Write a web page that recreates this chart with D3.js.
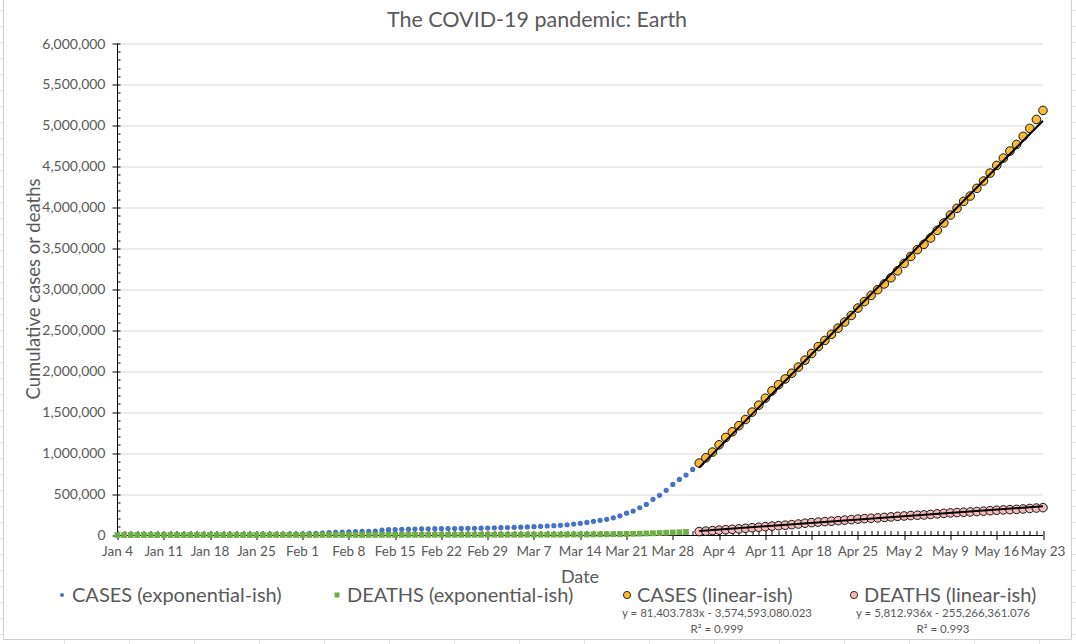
<!DOCTYPE html>
<html>
<head>
<meta charset="utf-8">
<script src="https://cdn.jsdelivr.net/npm/d3@7"></script>
<style>
  body { margin: 0; background: #fff; }
  svg { display: block; font-family: Lato, "Open Sans", sans-serif; }
</style>
</head>
<body>
<div id="chart"></div>
<script>
// first day of the exponential part, first day of the linear part
const expStart = "2020-01-04";
const linStart = "2020-04-01";

// Jan 4 .. Mar 31
const expCases = [
  44, 44, 59, 59, 59, 59, 59, 59, 59, 59, 41, 41, 41, 41, 41, 45, 62, 201,
  580, 845, 1320, 2015, 2800, 4585, 6065, 7820, 9830, 11950,
  14560, 17390, 20630, 24550, 28280, 31480, 34890, 37560, 40550, 43100,
  45170, 46550, 60330, 64440, 67100, 69200, 71330, 73330, 75200, 75750,
  76770, 77790, 78810, 79330, 80240, 81110, 82290, 83650, 85400,
  87140, 88950, 90870, 93090, 95330, 98190, 102000, 106000, 109580, 113700,
  118320, 125260, 132760, 142540, 153520, 167510, 179110, 191130, 209840, 234070,
  266070, 292140, 332930, 372760, 435000, 484000, 545000, 618000, 679000, 732000, 801000
];
const expDeaths = [
  0, 0, 0, 0, 0, 0, 0, 1, 1, 1, 1, 1, 1, 1, 2, 3, 4, 6,
  17, 25, 41, 56, 80, 106, 132, 170, 213, 259,
  304, 362, 426, 492, 565, 638, 724, 813, 910, 1018,
  1115, 1261, 1383, 1526, 1669, 1775, 1873, 2009, 2126, 2247,
  2360, 2460, 2618, 2699, 2763, 2800, 2858, 2924, 2977,
  3050, 3117, 3202, 3285, 3387, 3494, 3600, 3800, 3988, 4262,
  4616, 4720, 5410, 5819, 6440, 7126, 7905, 8778, 9840, 11184,
  12944, 14510, 16497, 18915, 21297, 24073, 27324, 30873, 33981, 37272
];

// Apr 1 .. May 23
const linCases = [
  878000, 943000, 1012000, 1101000, 1191000, 1260000, 1335000, 1410000, 1500000, 1585000,
  1670000, 1760000, 1835000, 1905000, 1975000, 2050000, 2135000, 2215000, 2300000, 2375000,
  2450000, 2525000, 2600000, 2680000, 2770000, 2850000, 2925000, 2995000, 3065000, 3140000,
  3225000, 3315000, 3400000, 3484000, 3549000, 3626000, 3719000, 3809000, 3906000, 3988000,
  4073000, 4138000, 4232000, 4321000, 4418000, 4512000, 4601000, 4687000, 4768000, 4866000,
  4963000, 5073000, 5183000
];
const linDeaths = [
  42000, 47000, 53000, 59000, 64500, 69500, 74700, 82000, 88500, 95000,
  102000, 108500, 114000, 119500, 126500, 134000, 144000, 151000, 157500, 163000,
  168000, 175000, 182000, 188000, 194000, 199500, 204000, 208500, 215000, 221000,
  227500, 232500, 237500, 241500, 245000, 251500, 258000, 264000, 269500, 274000,
  277500, 281000, 286000, 291500, 297000, 302000, 306500, 309500, 313000, 318000,
  323500, 329000, 334000
];

// Excel linear trendlines (x = Excel date serial)
const casesTrend = { slope: 81403.783, intercept: -3574593080.023, r2: "0.999",
  label: "y = 81,403.783x - 3,574,593,080.023" };
const deathsTrend = { slope: 5812.936, intercept: -255266361.076, r2: "0.993",
  label: "y = 5,812.936x - 255,266,361.076" };

const xTickLabels = ["Jan 4", "Jan 11", "Jan 18", "Jan 25", "Feb 1", "Feb 8", "Feb 15",
  "Feb 22", "Feb 29", "Mar 7", "Mar 14", "Mar 21", "Mar 28", "Apr 4", "Apr 11",
  "Apr 18", "Apr 25", "May 2", "May 9", "May 16", "May 23"];
const yTicks = d3.range(0, 6000001, 500000);

const seriesNames = ["CASES (exponential-ish)", "DEATHS (exponential-ish)",
  "CASES (linear-ish)", "DEATHS (linear-ish)"];
const colors = { blue: "#4472C4", green: "#70AD47", orange: "#FBB935", pink: "#F6BABA" };

const W = 1076, H = 644;
const margin = { top: 43.5, right: 33, bottom: 109, left: 117.5 };
const plotW = W - margin.left - margin.right;
const plotH = H - margin.top - margin.bottom;

const parse = d3.utcParse("%Y-%m-%d");
const day = 864e5;
const toSeries = (start, vals) => vals.map((v, i) => ({ date: new Date(parse(start).getTime() + i * day), v }));
const blue = toSeries(expStart, expCases);
const green = toSeries(expStart, expDeaths);
const orange = toSeries(linStart, linCases);
const pink = toSeries(linStart, linDeaths);

const tickDates = xTickLabels.map(s => d3.utcParse("%b %d %Y")(s + " 2020"));
const excelEpoch = Date.UTC(1899, 11, 30);
const serial = d => (d.getTime() - excelEpoch) / day;

const x = d3.scaleUtc()
  .domain([tickDates[0], tickDates[tickDates.length - 1]])
  .range([0, plotW]);
const y = d3.scaleLinear().domain([0, 6000000]).range([plotH, 0]);

const svg = d3.select("#chart").append("svg")
  .attr("width", W).attr("height", H);

svg.append("rect").attr("width", W).attr("height", H).attr("fill", "#fff");

// spreadsheet cells around the chart object
const cellColor = "#E3E3E3";
const rows = d3.range(10, H, 16);
svg.append("g").selectAll("line").data(rows).enter().append("line")
  .attr("x1", 0).attr("x2", 3).attr("y1", d => d + 0.5).attr("y2", d => d + 0.5)
  .attr("stroke", cellColor);
svg.append("g").selectAll("line").data(rows).enter().append("line")
  .attr("x1", 1072).attr("x2", W).attr("y1", d => d + 0.5).attr("y2", d => d + 0.5)
  .attr("stroke", cellColor);
svg.append("g").selectAll("line").data(d3.range(64, W, 65)).enter().append("line")
  .attr("x1", d => d + 0.5).attr("x2", d => d + 0.5).attr("y1", 640).attr("y2", H)
  .attr("stroke", cellColor);
// chart area border
svg.append("path")
  .attr("d", "M3.5,0V639.5H1071.5V0")
  .attr("fill", "none").attr("stroke", "#D0D0D0");

const g = svg.append("g").attr("transform", `translate(${margin.left},${margin.top})`);

// gridlines
g.append("g").selectAll("line").data(yTicks.slice(1)).enter().append("line")
  .attr("x1", 0).attr("x2", plotW)
  .attr("y1", d => Math.round(y(d)) + 0.5).attr("y2", d => Math.round(y(d)) + 0.5)
  .attr("stroke", "#D9D9D9");

// y axis: major ticks outside, minor ticks inside
const yAxis = g.append("g");
yAxis.append("line").attr("x1", 0).attr("x2", 0).attr("y1", 0).attr("y2", plotH)
  .attr("stroke", "#000");
yAxis.selectAll(".minor").data(d3.range(0, 6000001, 100000)).enter().append("line")
  .attr("x1", 0).attr("x2", 3)
  .attr("y1", d => Math.round(y(d)) + 0.5).attr("y2", d => Math.round(y(d)) + 0.5)
  .attr("stroke", "#000");
yAxis.selectAll(".major").data(yTicks).enter().append("line")
  .attr("x1", -5).attr("x2", 0)
  .attr("y1", d => Math.round(y(d)) + 0.5).attr("y2", d => Math.round(y(d)) + 0.5)
  .attr("stroke", "#000");
yAxis.selectAll("text").data(yTicks).enter().append("text")
  .attr("x", -12).attr("y", d => y(d)).attr("dy", "0.36em")
  .attr("text-anchor", "end").attr("fill", "#595959").style("font-size", "14px")
  .text(d3.format(","));

// x axis: major ticks outside (weekly), minor inside (daily)
const xAxis = g.append("g").attr("transform", `translate(0,${plotH})`);
xAxis.selectAll(".minor").data(d3.utcDay.range(tickDates[0], d3.utcDay.offset(tickDates[tickDates.length - 1], 1)))
  .enter().append("line")
  .attr("x1", d => Math.round(x(d)) + 0.5).attr("x2", d => Math.round(x(d)) + 0.5)
  .attr("y1", -4).attr("y2", 0).attr("stroke", "#000");
xAxis.selectAll(".major").data(tickDates).enter().append("line")
  .attr("x1", d => Math.round(x(d)) + 0.5).attr("x2", d => Math.round(x(d)) + 0.5)
  .attr("y1", 0).attr("y2", 5).attr("stroke", "#000");
xAxis.append("line").attr("x1", 0).attr("x2", plotW).attr("y1", 0.5).attr("y2", 0.5)
  .attr("stroke", "#000");
xAxis.selectAll("text").data(tickDates).enter().append("text")
  .attr("x", d => x(d)).attr("y", 21)
  .attr("text-anchor", "middle").attr("fill", "#595959").style("font-size", "13.5px")
  .text((d, i) => xTickLabels[i]);

// markers
g.append("g").selectAll("circle").data(blue).enter().append("circle")
  .attr("cx", d => x(d.date)).attr("cy", d => y(d.v)).attr("r", 2.6)
  .attr("fill", colors.blue);
g.append("g").selectAll("rect").data(green).enter().append("rect")
  .attr("x", d => x(d.date) - 2.9).attr("y", d => y(d.v) - 2.9)
  .attr("width", 5.8).attr("height", 5.8).attr("fill", colors.green);
g.append("g").selectAll("circle").data(orange).enter().append("circle")
  .attr("cx", d => x(d.date)).attr("cy", d => y(d.v)).attr("r", 4.3)
  .attr("fill", colors.orange).attr("stroke", "#000").attr("stroke-width", 0.9);
g.append("g").selectAll("circle").data(pink).enter().append("circle")
  .attr("cx", d => x(d.date)).attr("cy", d => y(d.v)).attr("r", 4.3)
  .attr("fill", colors.pink).attr("stroke", "#000").attr("stroke-width", 0.9);

// trendlines, drawn over the markers like Excel does
[[casesTrend, orange], [deathsTrend, pink]].forEach(([t, s]) => {
  const ends = [s[0].date, s[s.length - 1].date];
  g.append("path")
    .attr("d", d3.line().x(d => x(d)).y(d => y(t.slope * serial(d) + t.intercept))(ends))
    .attr("stroke", "#000").attr("stroke-width", 2).attr("fill", "none");
});

// titles
svg.append("text").attr("x", 537).attr("y", 27).attr("text-anchor", "middle")
  .attr("fill", "#595959").style("font-size", "21.5px")
  .text("The COVID-19 pandemic: Earth");
svg.append("text").attr("transform", "translate(40,289) rotate(-90)")
  .attr("text-anchor", "middle").attr("fill", "#595959").style("font-size", "18.5px")
  .text("Cumulative cases or deaths");
svg.append("text").attr("x", 580).attr("y", 583).attr("text-anchor", "middle")
  .attr("fill", "#595959").style("font-size", "18px")
  .text("Date");

// legend
const legend = svg.append("g").attr("fill", "#595959");
const lx = [62, 337, 627, 854];
const ly = 595;
legend.append("circle").attr("cx", lx[0]).attr("cy", ly).attr("r", 2).attr("fill", colors.blue);
legend.append("rect").attr("x", lx[1] - 2.5).attr("y", ly - 2.5).attr("width", 5).attr("height", 5)
  .attr("fill", colors.green);
legend.append("circle").attr("cx", lx[2]).attr("cy", ly).attr("r", 3.6)
  .attr("fill", colors.orange).attr("stroke", "#000").attr("stroke-width", 0.8);
legend.append("circle").attr("cx", lx[3]).attr("cy", ly).attr("r", 3.6)
  .attr("fill", colors.pink).attr("stroke", "#000").attr("stroke-width", 0.8);
seriesNames.forEach((name, i) => {
  legend.append("text").attr("x", lx[i] + 10).attr("y", ly + 7)
    .style("font-size", "20px").text(name);
});
[[casesTrend, 717], [deathsTrend, 943]].forEach(([t, cx]) => {
  legend.append("text").attr("x", cx).attr("y", 617).attr("text-anchor", "middle")
    .style("font-size", "11.5px").text(t.label);
  legend.append("text").attr("x", cx).attr("y", 633).attr("text-anchor", "middle")
    .style("font-size", "11.5px").text("R² = " + t.r2);
});
</script>
</body>
</html>
